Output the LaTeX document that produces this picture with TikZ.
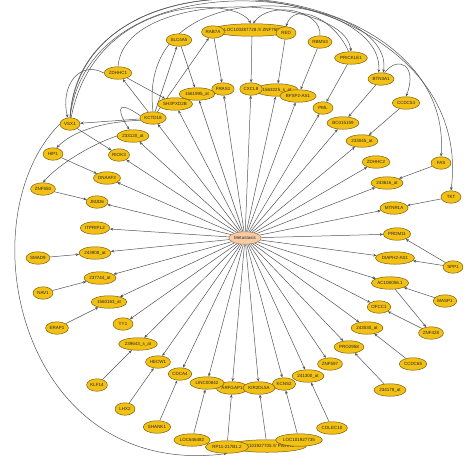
\documentclass[tikz,border=0pt]{standalone}
\usepackage{fontspec}
\setmainfont{Liberation Sans}
\usetikzlibrary{shapes.geometric,arrows.meta}
\pgfdeclarelayer{back}
\pgfsetlayers{back,main}
\definecolor{genefill}{RGB}{243,192,20}
\definecolor{genedraw}{RGB}{120,95,15}
\definecolor{hubfill}{RGB}{249,204,164}
\definecolor{hubdraw}{RGB}{150,112,80}
\definecolor{edgegray}{RGB}{85,85,85}
\begin{document}
\begin{tikzpicture}[x=1pt, y=-1pt, font=\fontsize{4.5}{5}\selectfont, line join=round, line cap=round,
	gene/.style={ellipse, draw=genedraw, fill=genefill, line width=0.5pt, inner sep=0.7pt, minimum height=12.5pt, minimum width=20pt, text=black!85},
	hub/.style={gene, draw=hubdraw, fill=hubfill},
	edge/.style={draw=edgegray, line width=0.5pt, -{Stealth[length=3.4pt,width=2.8pt]}}]
			\useasboundingbox (0,0) rectangle (474,467);
			\node[hub] (met) at (245,238) {Metastasis};
			% inner ring
			\node[gene] (s1563) at (277,90) {1563225\_s\_at};
			\node[gene] (arf) at (232,388) {ARFGAP1};
			\foreach \n/\x/\y/\t in {fras/223/89/FRAS1, cxcl/251/89/CXCL8, bfsp/298/96/BFSP2-AS1, pml/323/108/PML,
				bc/343/123/BC015159, a233045/362/141/233045\_at, zdhhc2/376/162/ZDHHC2, a243616/387/183/243616\_at,
				mtnr/394/208/MTNR1A, prdm/397/234/PRDM11, diaph/395/258/DIAPH2-AS1, ac108/390/283/AC108056.1,
				ofcc/379/307/OFCC1, a243530/367/328/243530\_at, pro/349/347/PRO2958, znf597/330/364/ZNF597,
				a241300/308/376/241300\_at, kcns/284/384/KCNS2, linc/207/383/LINC00842, kir/259/388/KIR2DL5A,
				cdca/180/374/CDCA4, hecw/158/362/HECW1, a239643/138/344/239643\_s\_at, yy/123/324/YY1,
				a1560163/109/302/1560163\_at, a237744/100/278/237744\_at, a243908/95/253/243908\_at,
				itpr/95/228/ITPRIPL2, jmjd/97/202/JMJD6, dnaaf/107/178/DNAAF3, riok/119/155/RIOK3,
				a233120/133/136/233120\_at, kctd/153/118/KCTD18, sh3/175/104/SH3PXD2B, a1561995/197/94/1561995\_at}
			\node[gene] (\n) at (\x,\y) {\t};
			% outer ring
			\node[gene] (loc287) at (252,30) {LOC100287728 /// ZNF75D};
			\node[gene] (loc705) at (267,446) {LOC101927705 /// PWRN1};
			\foreach \n/\x/\y/\t in {slc/179/40/SLC4A5, rab/213/32/RAB7A, red/286/33/RED, rbms/320/42/RBMS3,
				prickle/351/58/PRICKLE1, btn/381/79/BTN3A1, ccdc54/406/103/CCDC54, fas/441/163/FAS, tkt/451/197/TKT,
				spp/453/267/SPP1, masp/445/301/MASP1, znf428/431/333/ZNF428, ccdc65/413/364/CCDC65,
				a234178/390/390/234178\_at, colec/332/428/COLEC10, loc735/299/440/LOC101927735,
				rp11/227/447/RP11-217B1.2, loc646/192/440/LOC646482, shank/157/427/SHANK1, lhx/125/409/LHX2,
				klf/97/385/KLF14, erap/57/328/ERAP1, nav/43/293/NAV1, smad/38/258/SMAD9, znf550/43/189/ZNF550,
				hip/53/154/HIP1, vsx/70/124/VSX1, zdhhc1/118/73/ZDHHC1}
			\node[gene] (\n) at (\x,\y) {\t};
			\begin{pgfonlayer}{back}
			\foreach \t in {fras,cxcl,s1563,bfsp,pml,bc,a233045,zdhhc2,a243616,mtnr,prdm,diaph,ac108,ofcc,
				a243530,pro,znf597,a241300,kcns,kir,arf,linc,cdca,hecw,a239643,yy,a1560163,a237744,a243908,
				itpr,jmjd,dnaaf,riok,a233120,kctd,sh3,a1561995}
			\draw[edge] (met)--(\t);
			\foreach \s/\t in {kctd/zdhhc1, kctd/slc, kctd/rab, kctd/vsx, zdhhc1/sh3, slc/a1561995, rab/fras,
				loc287/cxcl, red/s1563, rbms/bfsp, prickle/pml, btn/bc, ccdc54/a233045, fas/a243616, tkt/mtnr,
				spp/prdm, spp/diaph, masp/ac108, ac108/znf428, znf428/ofcc, ccdc65/a243530, a234178/pro,
				colec/a241300, loc735/kcns, loc705/kir, rp11/arf, loc646/linc, shank/cdca, lhx/hecw,
				klf/a239643, erap/a1560163, nav/a237744, smad/a243908, znf550/jmjd, hip/dnaaf, vsx/riok}
			\draw[edge] (\s)--(\t);
			% arcs round the outside
			\draw[edge] (vsx.north) .. controls (85,-75) and (478,-20) .. (tkt.north);
			\draw[edge] (vsx.north) .. controls (80,-65) and (455,-25) .. (fas.north);
			\draw[edge] (vsx.north) .. controls (90,-45) and (385,-15) .. (btn.110);
			\draw[edge] (kctd.north) .. controls (135,-40) and (395,-5) .. (btn.70);
			\draw[edge] (zdhhc1.north) .. controls (125,-15) and (345,-5) .. (prickle.north);
			\draw[edge] (vsx.80) .. controls (95,-5) and (235,-5) .. (loc287.100);
			\draw[edge] (rbms.north) .. controls (322,10) and (270,0) .. (loc287.80);
			\draw[edge] (prickle.110) .. controls (335,20) and (295,0) .. (red.north);
			\draw[edge] (btn.60) .. controls (398,55) and (418,65) .. (ccdc54.north);
			\draw[edge] (vsx.west) .. controls (-35,220) and (20,480) .. (rp11.south);
			% loops near KCTD18
			\draw[edge] (zdhhc1.west) .. controls (80,60) and (60,85) .. (vsx.110);
			\draw[edge] (kctd.170) .. controls (112,96) and (120,115) .. (a233120.120);
			\draw[edge] (kctd.190) .. controls (100,122) and (72,132) .. (hip.60);
			\draw[edge] (a233120.west) .. controls (90,145) and (58,165) .. (znf550.north);
			\end{pgfonlayer}
			\end{tikzpicture}
\end{document}
